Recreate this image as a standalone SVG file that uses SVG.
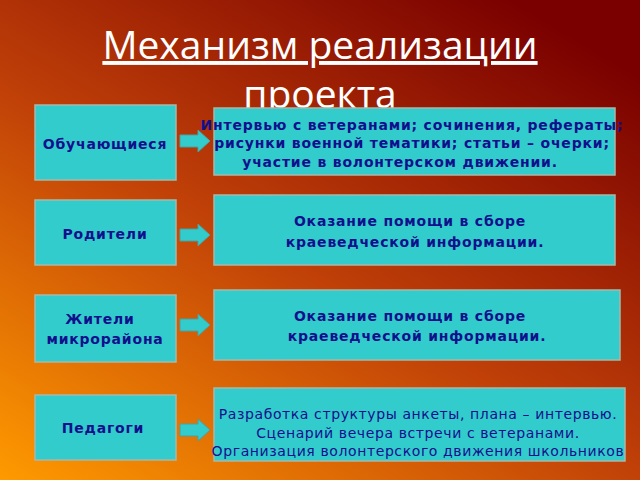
<svg xmlns="http://www.w3.org/2000/svg" width="640" height="480" viewBox="0 0 640 480">
<defs>
<linearGradient id="bg" x1="0" y1="1" x2="0.8" y2="0">
<stop offset="0" stop-color="#ff9a00"/>
<stop offset="0.5" stop-color="#c04008"/>
<stop offset="1" stop-color="#7a0000"/>
</linearGradient>
<path id="arr" d="M0,-6 H18 V-11 L30,0 L18,11 V6 H0 Z"/>
</defs>
<style>
.box{fill:#33cccc;stroke:#a8b8a8;stroke-width:1.5}
.t{font-family:"DejaVu Sans",sans-serif;font-size:14px;font-weight:bold;fill:#10108c;text-anchor:middle;letter-spacing:0.8px}
.n{font-weight:normal;letter-spacing:0.6px}
.a{fill:#33cccc;stroke:#4aa0a0;stroke-width:1}
</style>
<rect width="640" height="480" fill="url(#bg)"/>
<g id="title" font-family="'Open Sans','DejaVu Sans',sans-serif" font-size="39" fill="#fff" text-anchor="middle" text-decoration="underline">
<text x="320" y="59">Механизм реализации</text>
<text x="320" y="108">проекта</text>
</g>
<g id="n1"><rect class="box" x="35" y="105" width="141" height="75"/><text class="t" x="105" y="149">Обучающиеся</text></g>
<g id="n2"><rect class="box" x="35" y="200" width="141" height="65"/><text class="t" x="105" y="239">Родители</text></g>
<g id="n3"><rect class="box" x="35" y="295" width="141" height="67"/><text class="t" x="100" y="324">Жители</text><text class="t" x="105" y="344">микрорайона</text></g>
<g id="n4"><rect class="box" x="35" y="395" width="141" height="65"/><text class="t" x="103" y="433">Педагоги</text></g>
<g id="r1"><rect class="box" x="214" y="108" width="401" height="67"/><text class="t" x="412" y="130">Интервью с ветеранами; сочинения, рефераты;</text><text class="t" x="412" y="148">рисунки военной тематики; статьи – очерки;</text><text class="t" x="400" y="167">участие в волонтерском движении.</text></g>
<g id="r2"><rect class="box" x="214" y="195" width="401" height="70"/><text class="t" x="410" y="226">Оказание помощи в сборе</text><text class="t" x="415" y="247">краеведческой информации.</text></g>
<g id="r3"><rect class="box" x="214" y="290" width="406" height="70"/><text class="t" x="410" y="321">Оказание помощи в сборе</text><text class="t" x="417" y="341">краеведческой информации.</text></g>
<g id="r4"><rect class="box" x="214" y="388" width="411" height="73"/><text class="t n" x="418" y="419">Разработка структуры анкеты, плана – интервью.</text><text class="t n" x="418" y="438">Сценарий вечера встречи с ветеранами.</text><text class="t n" x="418" y="456">Организация волонтерского движения школьников</text></g>
<g id="connectors">
<use href="#arr" class="a" x="180" y="141"/>
<use href="#arr" class="a" x="180" y="235"/>
<use href="#arr" class="a" x="180" y="325"/>
<use href="#arr" class="a" x="180" y="430"/>
</g>
</svg>
